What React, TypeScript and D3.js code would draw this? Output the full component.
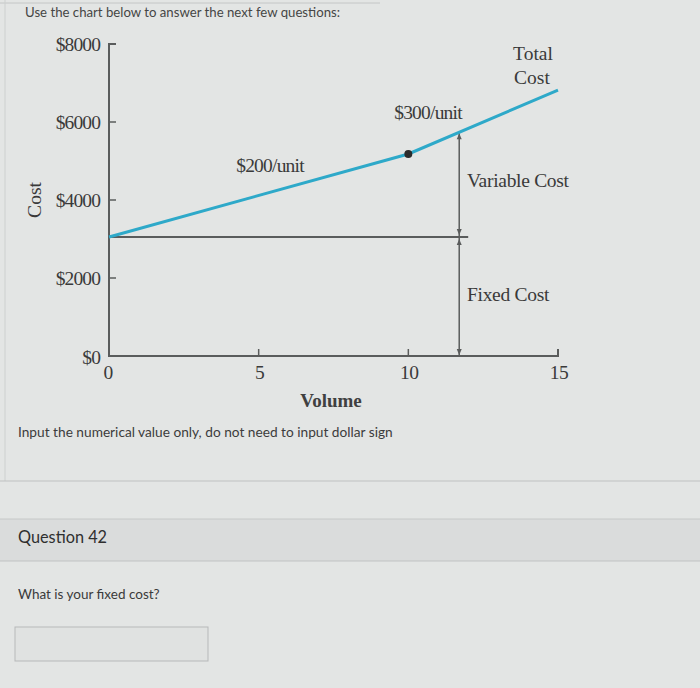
import React from 'react';
import * as d3 from 'd3';

// chart values
const yTicks = [0, 2000, 4000, 6000, 8000];
const xTicks = [0, 5, 10, 15];
const volume = [0, 10, 15];
const totalCost = [3050, 5180, 6820];
const fixedCost = 3050;
const fixedLineEnd = 12;
const markerVolume = 11.7;
const dotVolume = 10;

const W = 700;
const H = 688;

const serif = '"Liberation Serif", "DejaVu Serif", serif';
const sans = 'Lato, "Open Sans", sans-serif';

const App: React.FC = () => {
  const x = d3.scaleLinear().domain([0, 15]).range([109, 558]);
  const y = d3.scaleLinear().domain([0, 8000]).range([356, 44]);

  const costAt = d3.scaleLinear().domain(volume).range(totalCost);

  const line = d3.line<number>()
    .x((_, i) => x(volume[i]))
    .y(d => y(d));

  const axisColor = '#5a5c5c';
  const textColor = '#3a3a3a';
  const fs = 19.5;

  const mx = x(markerVolume);
  const yTop = y(costAt(markerVolume));
  const yFix = y(fixedCost);
  const yBase = y(0);

  // small arrowhead; dir = -1 points up, 1 points down
  const arrow = (px: number, py: number, dir: number) =>
    `M${px},${py} L${px - 2.5},${py - dir * 6} L${px + 2.5},${py - dir * 6} Z`;

  return (
    <svg width={W} height={H} style={{ position: 'absolute', left: 0, top: 0 }}>
      <rect width={W} height={H} fill="#e3e5e4" />

      {/* page frame */}
      <line x1={0} x2={380} y1={3} y2={3} stroke="#c4c6c6" />
      <line x1={5} x2={5} y1={0} y2={481} stroke="#cdd0cf" />
      <line x1={0} x2={W} y1={481} y2={481} stroke="#bfc1c1" />

      <text x={25} y={17} fontFamily={sans} fontSize={13.2} fill="#454545">
        Use the chart below to answer the next few questions:
      </text>

      {/* axes */}
      <path
        d={`M${x(0) + 7},${y(8000)} H${x(0)} V${yBase} H${x(15)} V${yBase - 7}`}
        fill="none"
        stroke={axisColor}
        strokeWidth={2}
      />
      {yTicks.slice(1, -1).map(t => (
        <line key={t} x1={x(0)} x2={x(0) + 7} y1={y(t)} y2={y(t)} stroke={axisColor} strokeWidth={1.5} />
      ))}
      {xTicks.slice(1, -1).map(t => (
        <line key={t} x1={x(t)} x2={x(t)} y1={yBase} y2={yBase - 7} stroke={axisColor} strokeWidth={1.5} />
      ))}

      {yTicks.map(t => (
        <text
          key={t}
          x={100}
          y={t === 0 ? y(t) + 8 : y(t) + 6.5}
          textAnchor="end"
          fontFamily={serif}
          fontSize={fs}
          letterSpacing={-0.9}
          fill={textColor}
        >
          {`$${t}`}
        </text>
      ))}
      {xTicks.map(t => (
        <text
          key={t}
          x={x(t) + (t === 0 ? -1 : 1)}
          y={yBase + 23}
          textAnchor="middle"
          fontFamily={serif}
          fontSize={fs}
          letterSpacing={-0.5}
          fill={textColor}
        >
          {t}
        </text>
      ))}

      <text
        transform={`translate(41,${y(4000)}) rotate(-90)`}
        textAnchor="middle"
        fontFamily={serif}
        fontSize={fs}
        fill={textColor}
      >
        Cost
      </text>
      <text x={331} y={407} textAnchor="middle" fontFamily={serif} fontSize={19} fontWeight="bold" fill="#404040">
        Volume
      </text>

      {/* fixed cost line */}
      <line x1={x(0)} x2={x(fixedLineEnd)} y1={yFix} y2={yFix} stroke={axisColor} strokeWidth={2} />

      {/* variable / fixed cost markers */}
      <line x1={mx} x2={mx} y1={yTop} y2={yBase} stroke={axisColor} strokeWidth={1.5} />
      <path d={arrow(mx, yTop + 1, -1)} fill={axisColor} />
      <path d={arrow(mx, yFix - 2, 1)} fill={axisColor} />
      <path d={arrow(mx, yFix + 2, -1)} fill={axisColor} />
      <path d={arrow(mx, yBase - 1, 1)} fill={axisColor} />

      {/* total cost */}
      <path d={line(totalCost) || ''} fill="none" stroke="#2ea9c9" strokeWidth={3} />
      <circle cx={x(dotVolume)} cy={y(costAt(dotVolume))} r={4} fill="#2b2b2b" />

      <text x={270} y={172} textAnchor="middle" fontFamily={serif} fontSize={fs} letterSpacing={-0.8} fill={textColor}>
        $200/unit
      </text>
      <text x={428} y={119} textAnchor="middle" fontFamily={serif} fontSize={fs} letterSpacing={-0.8} fill={textColor}>
        $300/unit
      </text>
      <text x={533} y={60} textAnchor="middle" fontFamily={serif} fontSize={fs} fill={textColor}>
        Total
      </text>
      <text x={532} y={84} textAnchor="middle" fontFamily={serif} fontSize={fs} fill={textColor}>
        Cost
      </text>
      <text x={467} y={187} fontFamily={serif} fontSize={fs} letterSpacing={-0.3} fill={textColor}>
        Variable Cost
      </text>
      <text x={467} y={301} fontFamily={serif} fontSize={fs} letterSpacing={-0.3} fill={textColor}>
        Fixed Cost
      </text>

      <text x={18} y={437} fontFamily={sans} fontSize={13.7} fill="#3c3c3c">
        Input the numerical value only, do not need to input dollar sign
      </text>

      {/* question block */}
      <rect x={0} y={519} width={W} height={42} fill="#dadcdc" />
      <line x1={0} x2={W} y1={519} y2={519} stroke="#c6c8c8" />
      <line x1={0} x2={W} y1={561} y2={561} stroke="#c1c3c3" />
      <text x={18} y={543} fontFamily={sans} fontSize={16.3} fill="#2f2f2f">
        Question 42
      </text>
      <text x={18} y={599} fontFamily={sans} fontSize={13.5} fill="#3a3a3a">
        What is your fixed cost?
      </text>
      <rect x={15} y={627} width={193} height={34} fill="#e0e2e1" stroke="#b7b9b9" />
    </svg>
  );
};

export default App;
